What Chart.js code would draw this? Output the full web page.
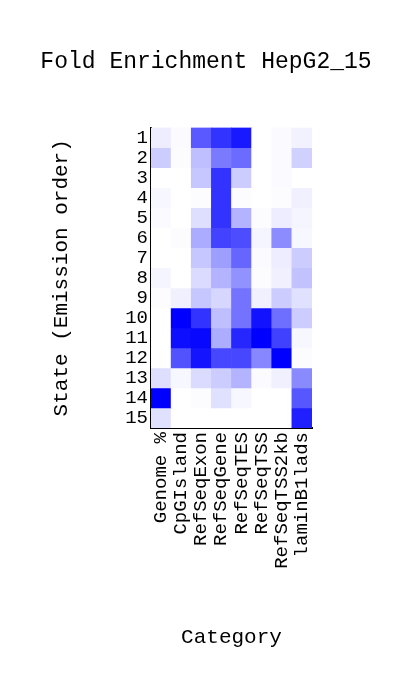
<!DOCTYPE html>
<html>
<head>
<meta charset="utf-8">
<title>Fold Enrichment HepG2_15</title>
<script src="https://cdn.jsdelivr.net/npm/chart.js@4.4.0/dist/chart.umd.min.js"></script>
<style>
  body { margin: 0; background: #fff; }
  canvas { display: block; }
</style>
</head>
<body>
<canvas id="heatmap" width="412" height="700"></canvas>
<script>
const categories = ["Genome %", "CpGIsland", "RefSeqExon", "RefSeqGene", "RefSeqTES", "RefSeqTSS", "RefSeqTSS2kb", "laminB1lads"];
const states = ["1", "2", "3", "4", "5", "6", "7", "8", "9", "10", "11", "12", "13", "14", "15"];

// column-normalised fold enrichment, one row per state (0 = white, 1 = full blue)
const enrichment = [
  [0.07, 0.02, 0.65, 0.80, 0.90, 0.00, 0.02, 0.05],
  [0.20, 0.01, 0.25, 0.52, 0.58, 0.00, 0.02, 0.18],
  [0.00, 0.00, 0.22, 0.80, 0.20, 0.00, 0.02, 0.00],
  [0.03, 0.00, 0.01, 0.80, 0.01, 0.00, 0.01, 0.06],
  [0.02, 0.00, 0.13, 0.80, 0.30, 0.01, 0.07, 0.04],
  [0.00, 0.01, 0.33, 0.74, 0.70, 0.04, 0.45, 0.03],
  [0.00, 0.00, 0.22, 0.38, 0.60, 0.02, 0.07, 0.20],
  [0.04, 0.00, 0.14, 0.30, 0.43, 0.01, 0.06, 0.24],
  [0.01, 0.06, 0.22, 0.16, 0.55, 0.06, 0.20, 0.12],
  [0.00, 1.00, 0.80, 0.25, 0.55, 0.93, 0.57, 0.20],
  [0.00, 0.95, 0.97, 0.32, 0.85, 1.00, 0.75, 0.03],
  [0.00, 0.68, 0.92, 0.72, 0.72, 0.47, 1.00, 0.01],
  [0.13, 0.03, 0.14, 0.20, 0.30, 0.02, 0.06, 0.46],
  [1.00, 0.00, 0.01, 0.12, 0.03, 0.00, 0.00, 0.66],
  [0.12, 0.00, 0.00, 0.00, 0.00, 0.00, 0.00, 0.88]
];

// white -> blue
function shade(v) {
  const c = Math.round(255 * (1 - v));
  return `rgb(${c},${c},255)`;
}

// each state is a stacked row of unit-height cells
const datasets = states.map((s, i) => ({
  label: "State " + s,
  data: categories.map(() => 1),
  backgroundColor: enrichment[i].map(shade),
  borderWidth: 0,
  barPercentage: 1,
  categoryPercentage: 1
}));

Chart.defaults.font.family = "'Liberation Mono', monospace";
Chart.defaults.color = "#000";

const ctx = document.getElementById("heatmap").getContext("2d");

new Chart(ctx, {
  type: "bar",
  data: { labels: categories, datasets: datasets },
  options: {
    responsive: false,
    animation: false,
    layout: { padding: 0 },
    plugins: {
      legend: { display: false },
      tooltip: { enabled: false },
      title: {
        display: true,
        text: "Fold Enrichment HepG2_15",
        color: "#000",
        font: { size: 23, weight: "normal" },
        padding: { top: 48, bottom: 52 }
      }
    },
    scales: {
      x: {
        stacked: true,
        grid: { display: false, drawTicks: false },
        border: { display: true, color: "#000", width: 2 },
        ticks: { font: { size: 19 }, minRotation: 90, maxRotation: 90, padding: 4, autoSkip: false },
        title: { display: true, text: "Category", font: { size: 21 }, padding: { top: 0, bottom: 50 } },
        afterFit: s => { s.height = 272; }
      },
      y: {
        stacked: true,
        reverse: true,
        min: 0,
        max: 15,
        grid: { display: false, drawTicks: false },
        border: { display: true, color: "#000", width: 2 },
        afterBuildTicks: axis => {
          axis.ticks = states.map((s, i) => ({ value: i + 0.5 }));
        },
        ticks: {
          font: { size: 19 },
          padding: 3,
          autoSkip: false,
          callback: v => String(Math.round(v + 0.5))
        },
        title: { display: true, text: "State (Emission order)", font: { size: 21 }, padding: { top: 49, bottom: 0 } },
        afterFit: s => { s.width = 151; }
      },
      pad: {
        type: "linear",
        axis: "y",
        position: "right",
        grid: { display: false, drawTicks: false },
        border: { display: false },
        ticks: { display: false },
        afterFit: s => { s.width = 100; }
      }
    }
  }
});
</script>
</body>
</html>
